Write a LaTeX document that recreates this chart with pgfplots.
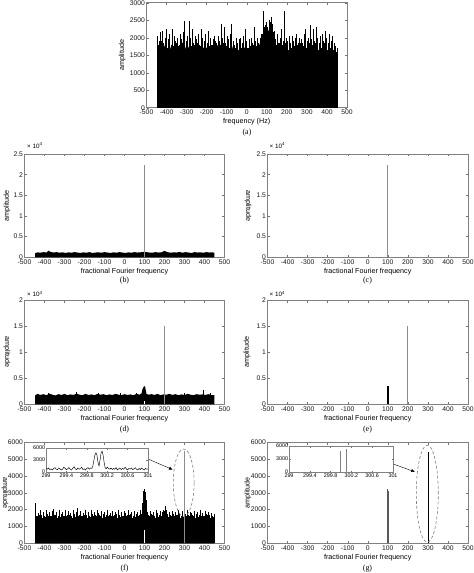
\documentclass[border=0pt]{standalone}
\usepackage{pgfplots}
\pgfplotsset{compat=1.18}
\usepackage{fontspec}
\setmainfont{Liberation Sans}
\newfontfamily\capfont{Liberation Serif}
\usetikzlibrary{arrows.meta}
\newcommand\tf{\fontsize{6.8}{8}\selectfont}
\newcommand\smf{\fontsize{6.3}{7}\selectfont}
\newcommand\lf{\fontsize{7.2}{8.5}\selectfont}
\newcommand\insf{\fontsize{5.4}{6}\selectfont}
\newcommand\cf{\capfont\fontsize{8}{9}\selectfont}
\newcommand\tenfour{× 10\textsuperscript{4}}
\pgfplotsset{
  common/.style={
    scale only axis, anchor=south west,
    tick align=inside, tick pos=both,
    scaled x ticks=false, scaled y ticks=false,
    axis line style={draw=black!50, line width=0.5bp},
    every tick/.style={draw=black!55, line width=0.4bp},
    /pgf/number format/1000 sep={},
    /pgf/number format/assume math mode=true,
    ymin=0,
  },
  mat/.style={
    common,
    xmin=-500, xmax=500, xtick={-500,-400,...,500},
    major tick length=2.2bp,
    ticklabel style={font=\tf, text=black!90},
    xticklabel style={inner sep=0.3bp, yshift=-1.8bp},
    yticklabel style={inner xsep=1.3bp, inner ysep=0bp},
    xlabel={fractional Fourier frequency},
    ylabel={amplitude},
    xlabel style={font=\lf, at={(axis description cs:0.5,0)}, anchor=center, yshift=-14bp},
    ylabel style={font=\lf, anchor=center},
  },
  inset/.style={
    common, xmin=299, xmax=301, ymax=6000,
    xtick={299,299.4,299.8,300.2,300.6,301}, ytick={0,3000,6000},
    major tick length=1.5bp,
    ticklabel style={font=\insf},
    xticklabel style={inner sep=0.3bp, yshift=-0.9bp},
    yticklabel style={inner xsep=0.8bp, inner ysep=0bp, yshift=0.6bp},
    axis background/.style={fill=white},
  },
  noisefill/.style={fill=black, draw=none},
  noisecomb/.style={ycomb, no marks, draw=black, line width=0.35bp},
}
\begin{document}
\begin{tikzpicture}
\path[use as bounding box] (0bp,0bp) rectangle (474bp,-573bp);

% ---------------- (a) ----------------
\begin{axis}[mat, at={(146.5bp,-107.7bp)}, width=200.5bp, height=105bp,
  ymax=3000, ytick={0,500,...,3000}, xlabel={frequency (Hz)},
  ylabel style={at={(axis description cs:-0.121,0.5)}}]
\addplot[noisefill] coordinates {
(-447,1500)(-435,1750)(-420,1600)(-405,1850)(-390,1550)(-375,1800)(-360,1650)(-345,1500)
(-330,1750)(-315,1900)(-300,1600)(-285,1800)(-270,1550)(-255,1700)(-240,1500)(-225,1800)
(-210,1650)(-195,1750)(-180,1500)(-165,1600)(-150,1750)(-135,1850)(-120,1550)(-105,1700)
(-90,1600)(-75,1800)(-60,1500)(-45,1650)(-30,1550)(-15,1750)(0,1600)(15,1500)(30,1700)
(45,1550)(60,1750)(75,2000)(90,2200)(105,2150)(115,2300)(125,2100)(135,1800)(150,1650)
(165,1750)(180,1600)(195,1850)(210,1550)(225,1700)(240,1600)(255,1750)(270,1500)(285,1700)
(300,1600)(315,1800)(330,1650)(345,1750)(360,1550)(375,1700)(390,1600)(405,1650)(420,1500)
(435,1600)(450,1450)} \closedcycle;
\addplot[noisecomb] coordinates {
(-445,2050)(-437,1900)(-430,2150)(-422,2200)(-415,1850)(-407,2000)(-400,2250)(-392,1950)
(-385,2100)(-377,1800)(-370,2250)(-362,2050)(-355,1900)(-347,2000)(-340,1750)(-332,2100)
(-325,1950)(-317,2150)(-310,2480)(-302,1900)(-295,2050)(-288,2480)(-280,2000)(-272,2250)
(-265,1850)(-258,2050)(-250,1950)(-242,2100)(-235,1800)(-228,2250)(-220,2000)(-213,1900)
(-205,2100)(-198,1850)(-190,2200)(-183,2000)(-175,1800)(-168,1950)(-160,2050)(-153,1850)
(-145,2050)(-138,1900)(-130,2400)(-122,2000)(-115,2300)(-108,1850)(-100,2050)(-92,1950)
(-85,2100)(-78,2400)(-70,1900)(-63,1800)(-55,2000)(-48,1850)(-40,1950)(-33,2000)(-25,1850)
(-18,2050)(-10,2250)(-3,1900)(5,1700)(12,1950)(20,2000)(27,1850)(35,2300)(42,1900)(50,2000)
(57,1850)(65,2000)(72,2100)(80,2750)(86,2300)(92,2350)(98,2450)(104,2250)(110,2500)
(116,2450)(122,2600)(128,2300)(135,2200)(142,1950)(150,2100)(157,1850)(165,2000)(172,2250)
(180,1900)(188,2750)(195,2000)(203,1900)(210,2050)(218,1850)(225,2050)(233,1900)(240,2000)
(248,2100)(255,1850)(263,2000)(270,1950)(278,1850)(285,2100)(292,2250)(300,1900)(307,2000)
(315,2350)(322,1950)(330,2250)(337,1900)(345,2300)(352,2000)(360,1850)(367,2050)(375,2100)
(382,1900)(390,2200)(397,2000)(405,1850)(412,2100)(420,1900)(428,2050)(435,1850)(442,1750)
(449,1700)};
\addplot[noisecomb, line width=0.45bp] coordinates {
(-441,1800)(-433,1700)(-426,1900)(-418,1750)(-411,1650)(-403,1850)(-396,1700)(-388,1800)
(-381,1650)(-373,1900)(-366,1750)(-358,1700)(-351,1850)(-343,1650)(-336,1800)(-328,1700)
(-321,1850)(-313,1750)(-306,1650)(-298,1800)(-291,1700)(-284,1900)(-276,1750)(-268,1650)
(-261,1800)(-254,1700)(-246,1850)(-238,1650)(-231,1750)(-224,1900)(-216,1700)(-209,1800)
(-201,1650)(-194,1850)(-186,1750)(-179,1650)(-171,1800)(-164,1700)(-156,1900)(-149,1750)
(-141,1650)(-134,1800)(-126,1700)(-119,1850)(-111,1650)(-104,1750)(-96,1800)(-89,1700)
(-81,1850)(-74,1650)(-66,1750)(-59,1700)(-51,1800)(-44,1650)(-36,1750)(-29,1700)(-21,1800)
(-14,1650)(-6,1750)(1,1700)(8,1600)(16,1750)(23,1700)(31,1800)(38,1650)(46,1750)(53,1700)
(61,1800)(68,1850)(76,2100)(83,2200)(89,2250)(95,2100)(101,2300)(107,2200)(113,2350)
(119,2250)(125,2400)(131,2150)(138,1900)(146,1800)(153,1700)(161,1850)(168,1750)(176,1800)
(184,1700)(191,1850)(199,1750)(206,1650)(214,1800)(221,1700)(229,1850)(236,1750)(244,1650)
(251,1800)(259,1700)(266,1850)(274,1650)(281,1750)(288,1800)(296,1700)(303,1650)(311,1850)
(318,1750)(326,1800)(333,1700)(341,1850)(348,1750)(356,1650)(363,1800)(371,1700)(378,1750)
(386,1850)(393,1700)(401,1650)(408,1800)(416,1700)(424,1750)(431,1650)(438,1700)(446,1600)};
\end{axis}
\node[font=\cf] at (247bp,-133bp) {(a)};

% ---------------- (b) ----------------
\begin{axis}[mat, at={(24.5bp,-257.3bp)}, width=200bp, height=103.3bp,
  ymax=25000, ytick={0,5000,10000,15000,20000,25000}, yticklabels={0,0.5,1,1.5,2,2.5},
  ylabel style={at={(axis description cs:-0.0875,0.5)}}]
\addplot[noisefill] coordinates {
(-447,1000)(-435,1200)(-420,1100)(-405,1250)(-390,1150)(-380,1600)(-370,1300)(-355,1150)
(-340,1250)(-325,1100)(-310,1200)(-295,1050)(-280,1200)(-265,1100)(-250,1250)(-235,1150)
(-220,1050)(-205,1200)(-190,1100)(-175,1250)(-160,1050)(-145,1150)(-130,1200)(-115,1100)
(-100,1250)(-85,1150)(-70,1050)(-55,1200)(-40,1100)(-25,1250)(-10,1150)(5,1050)(20,1200)
(35,1100)(50,1250)(65,1150)(80,1200)(95,1300)(110,1250)(125,1150)(140,1100)(155,1250)
(170,1150)(185,1200)(200,1550)(215,1250)(230,1100)(245,1200)(260,1150)(275,1300)(290,1100)
(305,1250)(320,1150)(335,1050)(350,1250)(365,1150)(380,1200)(395,1100)(410,1250)(425,1150)
(440,1200)(450,1100)} \closedcycle;
\addplot[ycomb, no marks, draw=black!45, line width=0.8bp] coordinates {(100,22300)};
\end{axis}
\node[anchor=base west, inner sep=0, font=\smf] at (27bp,-148.3bp) {\tenfour};
\node[font=\cf] at (124.5bp,-281bp) {(b)};

% ---------------- (c) ----------------
\begin{axis}[mat, at={(267.5bp,-257.3bp)}, width=200.5bp, height=103.3bp,
  ymax=25000, ytick={0,5000,10000,15000,20000,25000}, yticklabels={0,0.5,1,1.5,2,2.5},
  ylabel style={at={(axis description cs:-0.097,0.5)}, rotate=180}]
\addplot[ycomb, no marks, draw=black!45, line width=0.8bp] coordinates {(100,22300)};
\end{axis}
\node[anchor=base west, inner sep=0, font=\smf] at (269.5bp,-148.3bp) {\tenfour};
\node[font=\cf] at (367.5bp,-281bp) {(c)};

% ---------------- (d) ----------------
\begin{axis}[mat, at={(24.5bp,-404.3bp)}, width=200bp, height=104bp,
  ymax=20000, ytick={0,5000,10000,15000,20000}, yticklabels={0,0.5,1,1.5,2},
  ylabel style={at={(axis description cs:-0.0875,0.5)}, rotate=180}]
\addplot[noisefill] coordinates {
(-447,1700)(-435,2000)(-420,1800)(-405,1950)(-390,1750)(-375,2050)(-360,1850)(-345,1700)
(-330,1950)(-315,1800)(-300,2000)(-285,1750)(-270,1900)(-255,1800)(-240,2050)(-225,1850)
(-210,1750)(-195,2000)(-180,1800)(-165,1900)(-150,1750)(-135,2000)(-120,1850)(-105,1950)
(-90,1750)(-75,1900)(-60,1800)(-45,2000)(-30,1850)(-15,1750)(0,1950)(15,1800)(30,1900)
(45,1750)(60,2000)(75,1850)(85,2100)(90,2900)(95,3300)(100,3500)(103,3400)(106,2800)
(110,2000)(120,1850)(135,1950)(150,1800)(165,2000)(180,1750)(195,1900)(210,1850)(225,2000)
(240,1800)(255,1950)(270,1750)(285,1900)(300,1800)(315,2000)(330,1850)(345,1750)(360,1950)
(375,1850)(390,1900)(405,1800)(420,1950)(435,1750)(450,1800)} \closedcycle;
\addplot[noisecomb] coordinates {(-380,2200)(-240,2300)(-130,2200)(-20,2150)(60,2200)(300,2200)(391,2700)(430,2100)};
\addplot[ycomb, no marks, draw=white, line width=0.9bp] coordinates {(101,700)};
\addplot[ycomb, no marks, draw=black!45, line width=0.8bp] coordinates {(200,15000)};
\end{axis}
\node[anchor=base west, inner sep=0, font=\smf] at (27bp,-296.8bp) {\tenfour};
\node[font=\cf] at (124.5bp,-430bp) {(d)};

% ---------------- (e) ----------------
\begin{axis}[mat, at={(267.5bp,-404.3bp)}, width=200.5bp, height=104bp,
  ymax=20000, ytick={0,5000,10000,15000,20000}, yticklabels={0,0.5,1,1.5,2},
  ylabel style={at={(axis description cs:-0.102,0.5)}}]
\addplot[ycomb, no marks, draw=black, line width=0.45bp] coordinates {
(96,2900)(97,3300)(98,3500)(99,3400)(100,3200)(101,3450)(102,3000)(103,2500)};
\addplot[ycomb, no marks, draw=black!45, line width=0.8bp] coordinates {(200,15000)};
\end{axis}
\node[anchor=base west, inner sep=0, font=\smf] at (269.5bp,-296.8bp) {\tenfour};
\node[font=\cf] at (367.5bp,-430bp) {(e)};

% ---------------- (f) ----------------
\begin{axis}[mat, at={(24.5bp,-543.3bp)}, width=200bp, height=101bp,
  ymax=6000, ytick={0,1000,...,6000},
  ylabel style={at={(axis description cs:-0.0975,0.5)}, rotate=180}]
\addplot[noisefill] coordinates {
(-447,1500)(-440,1350)(-425,1450)(-410,1300)(-395,1500)(-380,1350)(-365,1450)(-350,1250)
(-335,1400)(-320,1500)(-305,1300)(-290,1450)(-275,1350)(-260,1500)(-245,1300)(-230,1400)
(-215,1250)(-200,1450)(-185,1350)(-170,1500)(-155,1300)(-140,1400)(-125,1350)(-110,1450)
(-95,1250)(-80,1400)(-65,1500)(-50,1300)(-35,1400)(-20,1350)(-5,1450)(10,1300)(25,1400)
(40,1250)(55,1450)(70,1350)(85,1450)(92,1800)(96,2600)(100,3000)(104,2800)(108,1900)
(115,1450)(130,1350)(145,1400)(160,1300)(175,1450)(190,1500)(200,1750)(210,1500)(225,1350)
(240,1450)(255,1300)(270,1400)(285,1350)(300,1450)(315,1300)(330,1400)(345,1350)(360,1450)
(375,1300)(390,1400)(405,1350)(420,1450)(435,1300)(450,1400)} \closedcycle;
\addplot[noisecomb] coordinates {
(-445,2400)(-438,1650)(-430,1800)(-423,1950)(-415,1700)(-408,1850)(-400,1600)(-393,2000)
(-385,1750)(-378,1850)(-370,1650)(-363,1900)(-355,2050)(-348,1700)(-340,1850)(-333,1600)
(-325,1950)(-318,1750)(-310,1850)(-303,1650)(-295,2000)(-288,1700)(-280,1900)(-273,1800)
(-265,1650)(-258,1950)(-250,1750)(-243,1850)(-235,2100)(-228,1700)(-220,1900)(-213,1650)
(-205,1800)(-198,2000)(-190,1700)(-183,1850)(-175,1650)(-168,1950)(-160,1750)(-153,1850)
(-145,1700)(-138,1950)(-130,1800)(-123,1650)(-115,1900)(-108,1750)(-100,1850)(-93,1650)
(-85,2000)(-78,1700)(-70,1800)(-63,1900)(-55,1650)(-48,1850)(-40,1750)(-33,1950)(-25,1700)
(-18,1850)(-10,1650)(-3,1900)(5,1800)(12,1700)(20,1950)(27,1750)(35,1850)(42,1650)(50,1900)
(57,1750)(65,1850)(72,1700)(80,2000)(88,1900)(94,3100)(98,3200)(102,3050)(106,2600)
(112,1850)(120,1700)(128,1900)(135,1750)(143,1850)(150,1650)(158,1950)(165,1800)(173,1700)
(180,1900)(188,1850)(195,2000)(202,2200)(208,1950)(215,1750)(223,1850)(230,1650)(238,1900)
(245,1750)(253,1850)(260,1700)(268,1950)(275,1800)(283,1650)(290,1900)(297,1850)(305,1750)
(312,1950)(320,1700)(327,1850)(335,1800)(342,1650)(350,1900)(357,1750)(365,1850)(372,1700)
(380,1950)(387,1800)(395,1650)(402,1900)(410,1750)(417,1850)(425,1700)(432,1800)(440,1650)
(447,1750)};
\addplot[noisecomb, line width=0.45bp] coordinates {
(-441,1600)(-434,1550)(-426,1700)(-419,1600)(-411,1500)(-404,1650)(-396,1550)(-389,1700)
(-381,1600)(-374,1500)(-366,1650)(-359,1550)(-351,1700)(-344,1600)(-336,1500)(-329,1650)
(-321,1550)(-314,1700)(-306,1600)(-299,1500)(-291,1650)(-284,1550)(-276,1700)(-269,1600)
(-261,1500)(-254,1650)(-246,1550)(-239,1700)(-231,1600)(-224,1500)(-216,1650)(-209,1550)
(-201,1700)(-194,1600)(-186,1500)(-179,1650)(-171,1550)(-164,1700)(-156,1600)(-149,1500)
(-141,1650)(-134,1550)(-126,1700)(-119,1600)(-111,1500)(-104,1650)(-96,1550)(-89,1700)
(-81,1600)(-74,1500)(-66,1650)(-59,1550)(-51,1700)(-44,1600)(-36,1500)(-29,1650)(-21,1550)
(-14,1700)(-6,1600)(1,1500)(9,1650)(16,1550)(24,1700)(31,1600)(39,1500)(46,1650)(54,1550)
(61,1700)(69,1600)(76,1650)(84,1750)(91,2400)(96,2900)(100,3100)(104,2900)(109,2200)
(116,1600)(124,1650)(131,1550)(139,1700)(146,1600)(154,1500)(161,1650)(169,1550)(176,1700)
(184,1600)(191,1750)(199,1900)(205,1800)(212,1650)(219,1550)(227,1700)(234,1600)(242,1500)
(249,1650)(257,1550)(264,1700)(272,1600)(279,1500)(287,1650)(294,1550)(302,1700)(309,1600)
(316,1500)(324,1650)(331,1550)(339,1700)(346,1600)(354,1500)(361,1650)(369,1550)(376,1700)
(384,1600)(391,1500)(399,1650)(406,1550)(414,1700)(421,1600)(429,1500)(436,1650)(444,1550)};
\addplot[ycomb, no marks, draw=white, line width=0.9bp] coordinates {(101,800)};
\addplot[ycomb, no marks, draw=black!45, line width=0.8bp] coordinates {(300,5500)};
\draw[black!50, line width=0.6bp, dash pattern=on 3bp off 2bp] (axis cs:296,3600) ellipse [x radius=10.4bp, y radius=33.7bp];
\draw[black, line width=0.4bp, -{Triangle[length=3.5bp,width=3bp]}] (axis cs:117,5010) -- (axis cs:240,4380);
\end{axis}
\begin{axis}[inset, at={(46bp,-472bp)}, width=102bp, height=24bp]
\addplot[black, line width=0.45bp, no marks] coordinates {
(299.000,900)(299.025,700)(299.050,1000)(299.075,600)(299.100,800)(299.125,500)(299.150,900)
(299.175,1100)(299.200,700)(299.225,600)(299.250,1000)(299.275,800)(299.300,500)(299.325,700)
(299.350,1200)(299.375,900)(299.400,600)(299.425,800)(299.450,1100)(299.475,700)(299.500,500)
(299.525,900)(299.550,1300)(299.575,800)(299.600,600)(299.625,1000)(299.650,700)(299.675,900)
(299.700,1200)(299.725,600)(299.750,800)(299.775,500)(299.800,900)(299.825,1100)(299.850,700)
(299.875,1000)(299.900,900)(299.920,1600)(299.940,3000)(299.960,4300)(299.980,4800)
(300.000,4200)(300.020,2400)(300.040,1500)(300.060,3000)(300.080,4800)(300.100,5200)
(300.120,4200)(300.140,2400)(300.160,1100)(300.180,800)(300.200,1200)(300.225,900)
(300.250,700)(300.275,1000)(300.300,600)(300.325,900)(300.350,700)(300.375,1100)(300.400,500)
(300.425,800)(300.450,1000)(300.475,600)(300.500,900)(300.525,700)(300.550,1200)(300.575,800)
(300.600,500)(300.625,900)(300.650,700)(300.675,1000)(300.700,600)(300.725,800)(300.750,1100)
(300.775,700)(300.800,500)(300.825,900)(300.850,600)(300.875,1000)(300.900,700)(300.925,500)
(300.950,900)(300.975,700)(301.000,800)};
\end{axis}
\node[font=\cf] at (124.5bp,-569bp) {(f)};

% ---------------- (g) ----------------
\begin{axis}[mat, at={(267.5bp,-543.3bp)}, width=200.5bp, height=101bp,
  ymax=6000, ytick={0,1000,...,6000},
  ylabel style={at={(axis description cs:-0.099,0.5)}}]
\addplot[ycomb, no marks, draw=black!65, line width=0.45bp] coordinates {
(95,2800)(96,3000)(97,3150)(98,3050)(99,3200)(100,3100)(101,2950)(102,3000)(103,2700)};
\addplot[ycomb, no marks, draw=black, line width=0.5bp] coordinates {(300,5400)};
\draw[black!50, line width=0.6bp, dash pattern=on 3bp off 2bp] (axis cs:297,2950) ellipse [x radius=11bp, y radius=48.5bp];
\draw[black, line width=0.4bp, -{Triangle[length=3.5bp,width=3bp]}] (axis cs:118,4750) -- (axis cs:234,4250);
\end{axis}
\begin{axis}[inset, at={(289bp,-472.5bp)}, width=104bp, height=26bp]
\addplot[ycomb, no marks, draw=black!50, line width=0.6bp] coordinates {(299.98,5000)(300.10,5350)};
\end{axis}
\node[font=\cf] at (367.5bp,-569bp) {(g)};

\end{tikzpicture}
\end{document}
